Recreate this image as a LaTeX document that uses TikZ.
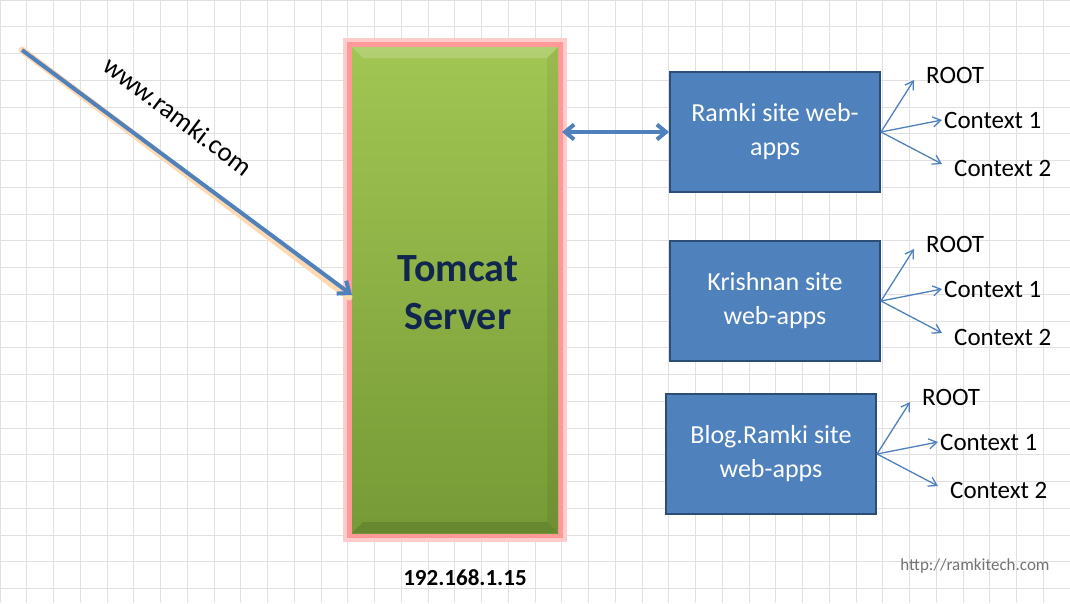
\documentclass[tikz,border=0pt]{standalone}
\usepackage{fontspec}
\setmainfont{Carlito}
\usetikzlibrary{arrows.meta}
\definecolor{boxblue}{HTML}{4F81BD}
\definecolor{boxedge}{HTML}{2C4D75}
\definecolor{navy}{HTML}{10264F}
\definecolor{gtop}{HTML}{A2C653}
\definecolor{gbot}{HTML}{769A36}
\tikzset{
  site/.style={draw=boxedge,line width=2pt,fill=boxblue,text=white,align=center,font=\fontsize{26}{34}\selectfont},
  lbl/.style={anchor=west,font=\fontsize{25}{30}\selectfont,inner sep=0pt},
  thin/.style={draw=boxblue,line width=1.3pt,-{Straight Barb[length=8pt,width=10pt]}},
}
\begin{document}
\begin{tikzpicture}[x=1pt,y=-1pt]
\useasboundingbox (0,0) rectangle (1070,603);
\fill[white] (0,0) rectangle (1070,603);
\foreach \i in {0,...,40}{\draw[black!12,line width=0.6pt] (\i*26.75,0) -- (\i*26.75,603);}
\foreach \j in {0,...,23}{\draw[black!12,line width=0.6pt] (0,\j*26.75) -- (1070,\j*26.75);}
% tomcat
\fill[red!20] (343,38) rectangle (567,542);
\fill[red!40] (347,42) rectangle (563,538);
\shade[top color=gtop,bottom color=gbot] (352,47) rectangle (558,533);
\fill[white,opacity=0.18] (352,47) -- (558,47) -- (547,58) -- (363,58) -- cycle;
\fill[black,opacity=0.12] (352,533) -- (558,533) -- (547,522) -- (363,522) -- cycle;
\fill[black,opacity=0.06] (558,47) -- (558,533) -- (547,522) -- (547,58) -- cycle;
\node[text=navy,font=\bfseries\fontsize{40}{48}\selectfont,align=center] (tc) at (458,293) {Tomcat\\Server};
\coordinate (tcl) at (352,295);
\coordinate (tcr) at (562,132);
\node[font=\bfseries\fontsize{23}{27}\selectfont] (ip) at (465,578) {192.168.1.15};
% incoming arrow
\coordinate (src) at (22,50);
\draw[orange!30,line width=7pt,line cap=round] (src) -- ([xshift=-3pt,yshift=-2pt]tcl);
\draw[boxblue,line width=4pt,-{Straight Barb[length=10pt,width=16pt]}] (src) -- (tcl);
\node[rotate=-37,font=\fontsize{27}{31}\selectfont] (url) at (178,116) {www.ramki.com};
% sites
\node[site,minimum width=210pt,minimum height=120pt] (s1) at (775,132) {Ramki site web-\\apps};
\node[site,minimum width=210pt,minimum height=120pt] (s2) at (775,301) {Krishnan site\\web-apps};
\node[site,minimum width=210pt,minimum height=120pt] (s3) at (771,454) {Blog.Ramki site\\web-apps};
\draw[boxblue,line width=4pt,{Straight Barb[length=9pt,width=15pt]}-{Straight Barb[length=9pt,width=15pt]}] (tcr) -- (s1.west);
\foreach \s in {s1,s2,s3}{
  \node[lbl] (\s r) at ([xshift=45pt,yshift=57pt]\s.east) {ROOT};
  \node[lbl] (\s a) at ([xshift=63pt,yshift=12pt]\s.east) {Context 1};
  \node[lbl] (\s b) at ([xshift=73pt,yshift=-36pt]\s.east) {Context 2};
  \draw[thin] (\s.east) -- ([xshift=-12pt,yshift=-5pt]\s r.west);
  \draw[thin] (\s.east) -- ([xshift=-2pt]\s a.west);
  \draw[thin] (\s.east) -- ([xshift=-12pt,yshift=4pt]\s b.west);
}
\node[text=black!55,font=\fontsize{17}{19}\selectfont] (web) at (975,566) {http://ramkitech.com};
\end{tikzpicture}
\end{document}
